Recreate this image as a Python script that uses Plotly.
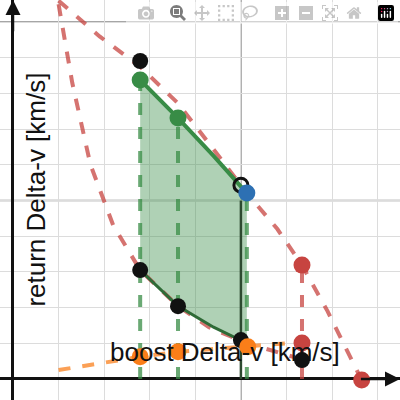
import plotly.graph_objects as go

# data (grid units)
outer_x = [1.0, 1.9, 2.79, 3.6, 4.3, 5.13, 5.8, 6.34, 6.9, 7.65]
outer_y = [10.6, 9.6, 8.75, 7.75, 6.6, 5.21, 4.2, 3.19, 1.9, -0.03]
inner_x = [1.0, 1.3, 1.7, 2.2, 2.79, 3.62, 4.3, 5.13, 5.8, 6.34]
inner_y = [10.5, 8.3, 6.0, 4.3, 3.05, 2.04, 1.45, 1.0, 0.75, 0.55]
top_x = [2.79, 3.62, 4.4, 5.13]
top_y = [8.38, 7.31, 6.25, 5.21]
bot_x = [5.13, 4.4, 3.62, 2.79]
bot_y = [1.0, 1.45, 2.04, 3.05]
green_pts_x = [2.79, 3.62]
green_pts_y = [8.38, 7.31]
black_x = [2.79, 2.79, 3.62, 5.0, 6.34]
black_y = [8.91, 3.05, 2.04, 1.09, 0.53]
red_x = [6.34, 6.34, 7.65]
red_y = [3.19, 1.01, -0.03]
orange_line_x = [1.0, 2.79, 3.62, 5.15, 6.0]
orange_line_y = [0.25, 0.62, 0.76, 0.90, 1.0]
orange_x = [2.79, 3.62, 5.15]
orange_y = [0.62, 0.76, 0.90]
blue_x = [5.13]
blue_y = [5.21]
vlines_x = [2.79, 3.62, 5.13]
vlines_top = [8.38, 7.31, 5.21]

RED = "rgba(199,68,64,0.75)"
GREEN = "#388c46"
fig = go.Figure()
fig.add_trace(go.Scatter(x=top_x + bot_x, y=top_y + bot_y, fill="toself", mode="none",
                         fillcolor="rgba(56,140,70,0.4)"))
for xv, yt in zip(vlines_x, vlines_top):
    fig.add_trace(go.Scatter(x=[xv, xv], y=[0, yt], mode="lines",
                             line=dict(color="rgba(56,140,70,0.75)", width=4, dash="dash")))
fig.add_trace(go.Scatter(x=[5.0, 5.0], y=[0, 5.0], mode="lines", line=dict(color="#2d4a30", width=2.5)))
fig.add_trace(go.Scatter(x=outer_x, y=outer_y, mode="lines", line=dict(color=RED, width=4, dash="dash")))
fig.add_trace(go.Scatter(x=inner_x, y=inner_y, mode="lines", line=dict(color=RED, width=4, dash="dash")))
fig.add_trace(go.Scatter(x=[6.34, 6.34], y=[0, 3.19], mode="lines", line=dict(color=RED, width=4, dash="dash")))
fig.add_trace(go.Scatter(x=top_x, y=top_y, mode="lines", line=dict(color=GREEN, width=4)))
fig.add_trace(go.Scatter(x=bot_x, y=bot_y, mode="lines", line=dict(color="#2f6b37", width=3)))
fig.add_trace(go.Scatter(x=orange_line_x, y=orange_line_y, mode="lines",
                         line=dict(color="rgba(250,128,30,0.75)", width=4, dash="dash")))
fig.add_trace(go.Scatter(x=black_x, y=black_y, mode="markers", marker=dict(color="#111", size=16)))
fig.add_trace(go.Scatter(x=[5.0], y=[5.43], mode="markers",
                         marker=dict(color="rgba(0,0,0,0)", size=14, line=dict(color="#111", width=3))))
fig.add_trace(go.Scatter(x=green_pts_x, y=green_pts_y, mode="markers", marker=dict(color=GREEN, size=17)))
fig.add_trace(go.Scatter(x=red_x, y=red_y, mode="markers", marker=dict(color="#c74440", size=17)))
fig.add_trace(go.Scatter(x=orange_x, y=orange_y, mode="markers", marker=dict(color="#fa7e19", size=17)))
fig.add_trace(go.Scatter(x=blue_x, y=blue_y, mode="markers", marker=dict(color="#2d70b3", size=17)))

ax = dict(showgrid=True, gridcolor="#dcdcdc", gridwidth=1, dtick=1, zeroline=True,
          zerolinecolor="#111", zerolinewidth=2.5, showticklabels=False, ticks="", showline=False)
fig.update_layout(width=400, height=400, margin=dict(l=0, r=0, t=0, b=0), showlegend=False,
                  plot_bgcolor="white", paper_bgcolor="white",
                  xaxis=dict(ax, range=[-0.285, 8.49]),
                  yaxis=dict(ax, range=[-0.59, 10.62]),
                  font=dict(family="Liberation Sans", color="#111"))
fig.add_vline(x=5, line=dict(color="#888", width=1.5), layer="below")
for v in [5, 10]:
    fig.add_hline(y=v, line=dict(color="#888", width=1.5), layer="below")
fig.add_annotation(x=8.49, y=0, ax=7.6, ay=0, xref="x", yref="y", axref="x", ayref="y",
                   showarrow=True, arrowhead=2, arrowsize=1.2, arrowwidth=2.5, arrowcolor="#111", text="")
fig.add_annotation(x=0, y=10.62, ax=0, ay=9.7, xref="x", yref="y", axref="x", ayref="y",
                   showarrow=True, arrowhead=2, arrowsize=1.2, arrowwidth=2.5, arrowcolor="#111", text="")
fig.add_annotation(x=0.5, y=5.3, xref="x", yref="y", text="return Delta-v [km/s]", showarrow=False,
                   textangle=-90, font=dict(size=26))
fig.add_annotation(x=4.65, y=0.75, xref="x", yref="y", text="boost Delta-v [km/s]", showarrow=False,
                   font=dict(size=26))
fig.write_html("out.html", post_script="document.body.style.margin='0';")
